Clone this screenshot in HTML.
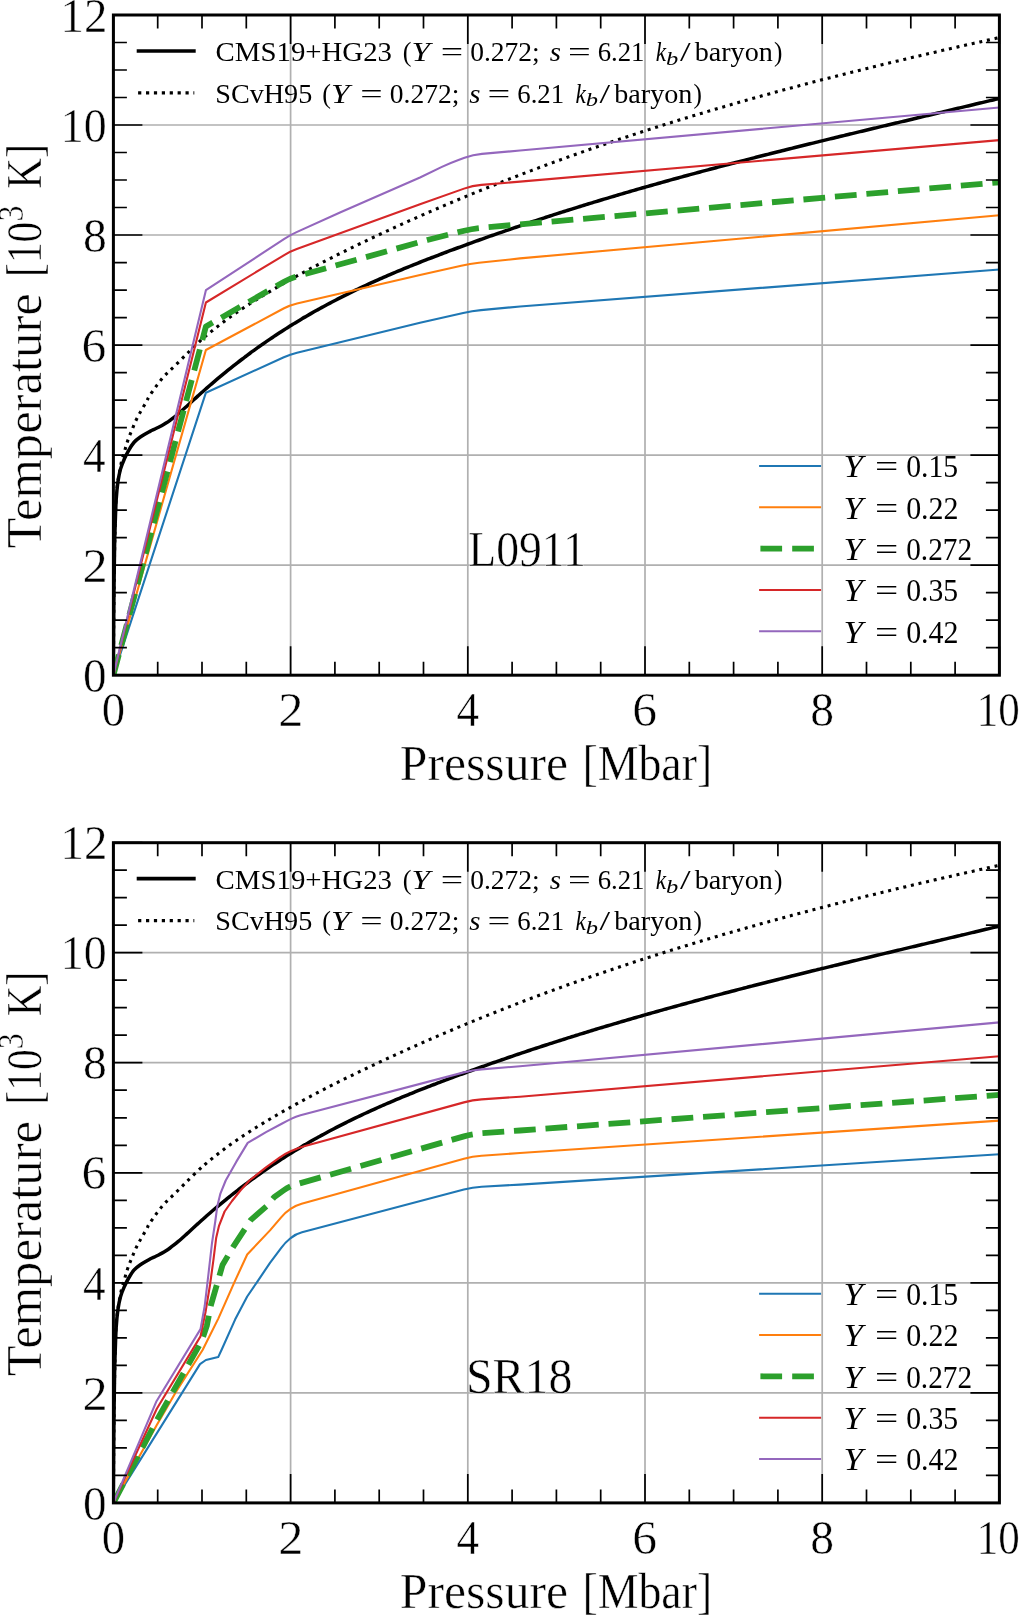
<!DOCTYPE html>
<html><head><meta charset="utf-8"><style>
html,body{margin:0;padding:0;background:#fff;overflow:hidden;}
svg{display:block;will-change:transform;}
</style></head><body>
<svg width="1020" height="1620" viewBox="0 0 1020 1620">
<rect width="1020" height="1620" fill="#fff"/>
<clipPath id="clip0"><rect x="113.4" y="15.0" width="886.0" height="660.2"/></clipPath>
<path d="M290.6,15.0 V675.2 M467.8,15.0 V675.2 M645.0,15.0 V675.2 M822.2,15.0 V675.2 M113.4,565.2 H999.4 M113.4,455.1 H999.4 M113.4,345.1 H999.4 M113.4,235.0 H999.4 M113.4,125.0 H999.4" stroke="#b0b0b0" stroke-width="1.7" fill="none"/>
<g clip-path="url(#clip0)" fill="none" stroke-linejoin="round">
<path d="M113.40,675.20 C113.43,669.33 113.50,654.20 113.60,640.00 C113.70,625.80 113.83,605.83 114.00,590.00 C114.17,574.17 114.38,556.50 114.60,545.00 C114.82,533.50 115.03,528.60 115.30,521.00 C115.57,513.40 115.77,505.88 116.20,499.40 C116.63,492.92 117.18,487.15 117.90,482.10 C118.62,477.05 119.42,472.98 120.50,469.10 C121.58,465.22 123.03,461.93 124.40,458.80 C125.77,455.67 127.12,453.02 128.70,450.30 C130.28,447.58 132.02,444.67 133.90,442.50 C135.78,440.33 137.32,439.15 140.00,437.30 C142.68,435.45 147.67,432.69 150.00,431.38 C152.33,430.07 152.67,430.08 154.00,429.44 C155.33,428.80 156.67,428.19 158.00,427.52 C159.33,426.85 160.67,426.19 162.00,425.44 C163.33,424.70 164.67,423.90 166.00,423.04 C167.33,422.18 168.67,421.26 170.00,420.29 C171.33,419.33 172.67,418.31 174.00,417.26 C175.33,416.20 176.67,415.10 178.00,413.98 C179.33,412.86 180.67,411.69 182.00,410.52 C183.33,409.34 184.67,408.14 186.00,406.93 C187.33,405.72 188.67,404.49 190.00,403.26 C191.33,402.04 192.67,400.80 194.00,399.57 C195.33,398.35 196.67,397.12 198.00,395.91 C199.33,394.70 200.67,393.50 202.00,392.31 C203.33,391.12 204.67,389.94 206.00,388.76 C207.33,387.59 208.67,386.43 210.00,385.27 C211.33,384.12 212.67,382.97 214.00,381.83 C215.33,380.70 216.67,379.57 218.00,378.45 C219.33,377.33 220.67,376.22 222.00,375.12 C223.33,374.02 224.67,372.93 226.00,371.84 C227.33,370.76 228.67,369.68 230.00,368.62 C231.33,367.55 232.67,366.49 234.00,365.44 C235.33,364.39 236.67,363.35 238.00,362.32 C239.33,361.29 240.67,360.27 242.00,359.25 C243.33,358.23 244.67,357.23 246.00,356.23 C247.33,355.23 248.67,354.24 250.00,353.26 C251.33,352.27 252.67,351.30 254.00,350.33 C255.33,349.36 256.67,348.41 258.00,347.45 C259.33,346.50 260.67,345.56 262.00,344.63 C263.33,343.69 264.67,342.76 266.00,341.84 C267.33,340.92 268.67,340.01 270.00,339.11 C271.33,338.20 272.67,337.31 274.00,336.42 C275.33,335.53 276.67,334.65 278.00,333.77 C279.33,332.90 280.67,332.03 282.00,331.17 C283.33,330.31 284.67,329.46 286.00,328.61 C287.33,327.77 288.67,326.93 290.00,326.10 C291.33,325.26 292.67,324.44 294.00,323.62 C295.33,322.80 296.67,321.99 298.00,321.19 C299.33,320.38 300.67,319.59 302.00,318.80 C303.33,318.00 304.67,317.22 306.00,316.44 C307.33,315.66 308.67,314.89 310.00,314.13 C311.33,313.36 312.67,312.60 314.00,311.85 C315.33,311.09 316.67,310.35 318.00,309.61 C319.33,308.87 320.67,308.13 322.00,307.40 C323.33,306.67 324.67,305.95 326.00,305.23 C327.33,304.51 328.67,303.80 330.00,303.09 C331.33,302.39 332.67,301.69 334.00,300.99 C335.33,300.30 336.67,299.61 338.00,298.92 C339.33,298.24 340.67,297.56 342.00,296.88 C343.33,296.21 344.67,295.54 346.00,294.87 C347.33,294.21 348.67,293.55 350.00,292.90 C351.33,292.24 352.67,291.59 354.00,290.95 C355.33,290.30 356.67,289.66 358.00,289.03 C359.33,288.39 360.67,287.76 362.00,287.13 C363.33,286.51 364.67,285.88 366.00,285.27 C367.33,284.65 368.67,284.04 370.00,283.43 C371.33,282.82 372.67,282.21 374.00,281.61 C375.33,281.01 376.67,280.41 378.00,279.82 C379.33,279.23 380.67,278.64 382.00,278.05 C383.33,277.46 384.67,276.88 386.00,276.30 C387.33,275.73 388.67,275.15 390.00,274.58 C391.33,274.01 392.67,273.44 394.00,272.88 C395.33,272.31 396.67,271.75 398.00,271.19 C399.33,270.63 400.67,270.08 402.00,269.53 C403.33,268.98 404.67,268.43 406.00,267.88 C407.33,267.34 408.67,266.79 410.00,266.25 C411.33,265.71 412.67,265.17 414.00,264.64 C415.33,264.10 416.67,263.57 418.00,263.04 C419.33,262.51 420.67,261.99 422.00,261.46 C423.33,260.94 424.67,260.41 426.00,259.89 C427.33,259.37 428.67,258.85 430.00,258.34 C431.33,257.82 432.67,257.31 434.00,256.80 C435.33,256.28 436.67,255.77 438.00,255.27 C439.33,254.76 440.67,254.25 442.00,253.75 C443.33,253.24 444.67,252.74 446.00,252.24 C447.33,251.73 448.67,251.23 450.00,250.73 C451.33,250.24 452.67,249.74 454.00,249.24 C455.33,248.75 456.67,248.25 458.00,247.76 C459.33,247.27 460.67,246.78 462.00,246.29 C463.33,245.80 464.67,245.31 466.00,244.82 C467.33,244.33 468.67,243.85 470.00,243.37 C471.33,242.88 472.67,242.40 474.00,241.92 C475.33,241.44 476.67,240.96 478.00,240.48 C479.33,240.00 480.67,239.53 482.00,239.05 C483.33,238.58 484.67,238.10 486.00,237.63 C487.33,237.16 488.67,236.69 490.00,236.22 C491.33,235.75 492.67,235.28 494.00,234.81 C495.33,234.35 496.67,233.88 498.00,233.42 C499.33,232.95 500.67,232.49 502.00,232.03 C503.33,231.57 504.67,231.11 506.00,230.65 C507.33,230.19 508.67,229.73 510.00,229.28 C511.33,228.82 512.67,228.37 514.00,227.91 C515.33,227.46 516.67,227.01 518.00,226.56 C519.33,226.11 520.67,225.66 522.00,225.21 C523.33,224.76 524.67,224.31 526.00,223.87 C527.33,223.42 528.67,222.98 530.00,222.54 C531.33,222.09 532.67,221.65 534.00,221.21 C535.33,220.77 536.67,220.33 538.00,219.89 C539.33,219.46 540.67,219.02 542.00,218.58 C543.33,218.15 544.67,217.72 546.00,217.28 C547.33,216.85 548.67,216.42 550.00,215.99 C551.33,215.56 552.67,215.13 554.00,214.70 C555.33,214.27 556.67,213.84 558.00,213.42 C559.33,212.99 560.67,212.57 562.00,212.14 C563.33,211.72 564.67,211.30 566.00,210.88 C567.33,210.46 568.67,210.04 570.00,209.62 C571.33,209.20 572.67,208.78 574.00,208.37 C575.33,207.95 576.67,207.53 578.00,207.12 C579.33,206.71 580.67,206.29 582.00,205.88 C583.33,205.47 584.67,205.06 586.00,204.65 C587.33,204.24 588.67,203.83 590.00,203.42 C591.33,203.01 592.67,202.61 594.00,202.20 C595.33,201.80 596.67,201.39 598.00,200.99 C599.33,200.58 600.67,200.18 602.00,199.78 C603.33,199.38 604.67,198.98 606.00,198.58 C607.33,198.18 608.67,197.78 610.00,197.39 C611.33,196.99 612.67,196.59 614.00,196.20 C615.33,195.80 616.67,195.41 618.00,195.01 C619.33,194.62 620.67,194.23 622.00,193.84 C623.33,193.45 624.67,193.06 626.00,192.67 C627.33,192.28 628.67,191.89 630.00,191.50 C631.33,191.11 632.67,190.73 634.00,190.34 C635.33,189.96 636.67,189.57 638.00,189.19 C639.33,188.81 640.67,188.42 642.00,188.04 C643.33,187.66 644.67,187.28 646.00,186.90 C647.33,186.52 648.67,186.14 650.00,185.76 C651.33,185.38 652.67,185.01 654.00,184.63 C655.33,184.25 656.67,183.88 658.00,183.50 C659.33,183.13 660.67,182.75 662.00,182.38 C663.33,182.01 664.67,181.64 666.00,181.26 C667.33,180.89 668.67,180.52 670.00,180.15 C671.33,179.78 672.67,179.41 674.00,179.05 C675.33,178.68 676.67,178.31 678.00,177.94 C679.33,177.58 680.67,177.21 682.00,176.85 C683.33,176.48 684.67,176.12 686.00,175.75 C687.33,175.39 688.67,175.03 690.00,174.67 C691.33,174.31 692.67,173.94 694.00,173.58 C695.33,173.22 696.67,172.86 698.00,172.51 C699.33,172.15 700.67,171.79 702.00,171.43 C703.33,171.07 704.67,170.72 706.00,170.36 C707.33,170.01 708.67,169.65 710.00,169.30 C711.33,168.94 712.67,168.59 714.00,168.23 C715.33,167.88 716.67,167.53 718.00,167.18 C719.33,166.83 720.67,166.47 722.00,166.12 C723.33,165.77 724.67,165.42 726.00,165.07 C727.33,164.73 728.67,164.38 730.00,164.03 C731.33,163.68 732.67,163.33 734.00,162.99 C735.33,162.64 736.67,162.29 738.00,161.95 C739.33,161.60 740.67,161.26 742.00,160.91 C743.33,160.57 744.67,160.23 746.00,159.88 C747.33,159.54 748.67,159.20 750.00,158.86 C751.33,158.51 752.67,158.17 754.00,157.83 C755.33,157.49 756.67,157.15 758.00,156.81 C759.33,156.47 760.67,156.13 762.00,155.79 C763.33,155.45 764.67,155.12 766.00,154.78 C767.33,154.44 768.67,154.10 770.00,153.77 C771.33,153.43 772.67,153.10 774.00,152.76 C775.33,152.42 776.67,152.09 778.00,151.75 C779.33,151.42 780.67,151.09 782.00,150.75 C783.33,150.42 784.67,150.09 786.00,149.75 C787.33,149.42 788.67,149.09 790.00,148.76 C791.33,148.42 792.67,148.09 794.00,147.76 C795.33,147.43 796.67,147.10 798.00,146.77 C799.33,146.44 800.67,146.11 802.00,145.78 C803.33,145.45 804.67,145.12 806.00,144.79 C807.33,144.46 808.67,144.14 810.00,143.81 C811.33,143.48 812.67,143.15 814.00,142.83 C815.33,142.50 816.67,142.17 818.00,141.85 C819.33,141.52 820.67,141.19 822.00,140.87 C823.33,140.54 824.67,140.22 826.00,139.89 C827.33,139.57 828.67,139.24 830.00,138.92 C831.33,138.59 832.67,138.27 834.00,137.95 C835.33,137.62 836.67,137.30 838.00,136.98 C839.33,136.65 840.67,136.33 842.00,136.01 C843.33,135.68 844.67,135.36 846.00,135.04 C847.33,134.72 848.67,134.40 850.00,134.07 C851.33,133.75 852.67,133.43 854.00,133.11 C855.33,132.79 856.67,132.47 858.00,132.15 C859.33,131.83 860.67,131.51 862.00,131.19 C863.33,130.87 864.67,130.55 866.00,130.23 C867.33,129.91 868.67,129.59 870.00,129.27 C871.33,128.95 872.67,128.63 874.00,128.31 C875.33,127.99 876.67,127.67 878.00,127.35 C879.33,127.03 880.67,126.71 882.00,126.40 C883.33,126.08 884.67,125.76 886.00,125.44 C887.33,125.12 888.67,124.80 890.00,124.49 C891.33,124.17 892.67,123.85 894.00,123.53 C895.33,123.21 896.67,122.90 898.00,122.58 C899.33,122.26 900.67,121.94 902.00,121.63 C903.33,121.31 904.67,120.99 906.00,120.68 C907.33,120.36 908.67,120.04 910.00,119.72 C911.33,119.41 912.67,119.09 914.00,118.77 C915.33,118.46 916.67,118.14 918.00,117.82 C919.33,117.51 920.67,117.19 922.00,116.87 C923.33,116.55 924.67,116.24 926.00,115.92 C927.33,115.60 928.67,115.29 930.00,114.97 C931.33,114.65 932.67,114.34 934.00,114.02 C935.33,113.70 936.67,113.39 938.00,113.07 C939.33,112.75 940.67,112.43 942.00,112.12 C943.33,111.80 944.67,111.48 946.00,111.17 C947.33,110.85 948.67,110.53 950.00,110.21 C951.33,109.90 952.67,109.58 954.00,109.26 C955.33,108.94 956.67,108.63 958.00,108.31 C959.33,107.99 960.67,107.67 962.00,107.36 C963.33,107.04 964.67,106.72 966.00,106.40 C967.33,106.08 968.67,105.77 970.00,105.45 C971.33,105.13 972.67,104.81 974.00,104.49 C975.33,104.17 976.67,103.85 978.00,103.54 C979.33,103.22 980.67,102.90 982.00,102.58 C983.33,102.26 984.67,101.94 986.00,101.62 C987.33,101.30 988.67,100.98 990.00,100.66 C991.33,100.34 992.67,100.02 994.00,99.70 C995.33,99.38 997.10,98.95 998.00,98.74 C998.90,98.52 999.17,98.46 999.40,98.40" stroke="#000" stroke-width="3.5"/>
<path d="M113.40,675.20 C113.43,669.33 113.50,654.20 113.60,640.00 C113.70,625.80 113.80,606.67 114.00,590.00 C114.20,573.33 114.50,554.38 114.80,540.00 C115.10,525.62 115.42,512.53 115.80,503.70 C116.18,494.87 116.53,492.03 117.10,487.00 C117.67,481.97 118.42,477.92 119.20,473.50 C119.98,469.08 120.93,464.10 121.80,460.50 C122.67,456.90 123.60,454.63 124.40,451.90 C125.20,449.17 125.80,446.63 126.60,444.10 C127.40,441.57 128.27,439.15 129.20,436.70 C130.13,434.25 131.20,431.85 132.20,429.40 C133.20,426.95 134.12,424.38 135.20,422.00 C136.28,419.62 137.47,417.40 138.70,415.10 C139.93,412.80 141.23,410.57 142.60,408.20 C143.97,405.83 145.67,403.08 146.90,400.90 C148.13,398.72 147.37,398.93 150.00,395.10 C152.63,391.27 158.45,382.88 162.70,377.90 C166.95,372.92 171.25,369.43 175.50,365.20 C179.75,360.97 184.12,356.52 188.20,352.50 C192.28,348.48 197.37,343.55 200.00,341.07 C202.63,338.58 202.67,338.73 204.00,337.58 C205.33,336.44 206.67,335.31 208.00,334.20 C209.33,333.09 210.67,332.00 212.00,330.92 C213.33,329.84 214.67,328.77 216.00,327.72 C217.33,326.67 218.67,325.64 220.00,324.62 C221.33,323.59 222.67,322.59 224.00,321.59 C225.33,320.60 226.67,319.62 228.00,318.65 C229.33,317.68 230.67,316.72 232.00,315.78 C233.33,314.83 234.67,313.90 236.00,312.97 C237.33,312.05 238.67,311.14 240.00,310.24 C241.33,309.34 242.67,308.45 244.00,307.56 C245.33,306.68 246.67,305.81 248.00,304.95 C249.33,304.08 250.67,303.23 252.00,302.38 C253.33,301.53 254.67,300.69 256.00,299.86 C257.33,299.03 258.67,298.20 260.00,297.39 C261.33,296.57 262.67,295.76 264.00,294.95 C265.33,294.14 266.67,293.34 268.00,292.55 C269.33,291.75 270.67,290.96 272.00,290.18 C273.33,289.39 274.67,288.61 276.00,287.83 C277.33,287.06 278.67,286.28 280.00,285.52 C281.33,284.75 282.67,283.99 284.00,283.23 C285.33,282.47 286.67,281.71 288.00,280.96 C289.33,280.21 290.67,279.46 292.00,278.72 C293.33,277.98 294.67,277.24 296.00,276.50 C297.33,275.77 298.67,275.04 300.00,274.31 C301.33,273.58 302.67,272.86 304.00,272.14 C305.33,271.42 306.67,270.71 308.00,269.99 C309.33,269.28 310.67,268.57 312.00,267.87 C313.33,267.16 314.67,266.46 316.00,265.76 C317.33,265.06 318.67,264.36 320.00,263.67 C321.33,262.98 322.67,262.29 324.00,261.60 C325.33,260.92 326.67,260.23 328.00,259.55 C329.33,258.87 330.67,258.20 332.00,257.52 C333.33,256.85 334.67,256.18 336.00,255.51 C337.33,254.84 338.67,254.17 340.00,253.51 C341.33,252.84 342.67,252.18 344.00,251.53 C345.33,250.87 346.67,250.21 348.00,249.56 C349.33,248.90 350.67,248.25 352.00,247.60 C353.33,246.95 354.67,246.31 356.00,245.66 C357.33,245.02 358.67,244.37 360.00,243.73 C361.33,243.09 362.67,242.45 364.00,241.82 C365.33,241.18 366.67,240.54 368.00,239.91 C369.33,239.28 370.67,238.64 372.00,238.01 C373.33,237.38 374.67,236.76 376.00,236.13 C377.33,235.50 378.67,234.88 380.00,234.26 C381.33,233.63 382.67,233.01 384.00,232.39 C385.33,231.77 386.67,231.16 388.00,230.54 C389.33,229.92 390.67,229.31 392.00,228.70 C393.33,228.09 394.67,227.47 396.00,226.87 C397.33,226.26 398.67,225.65 400.00,225.04 C401.33,224.44 402.67,223.83 404.00,223.23 C405.33,222.63 406.67,222.03 408.00,221.43 C409.33,220.83 410.67,220.23 412.00,219.64 C413.33,219.04 414.67,218.45 416.00,217.86 C417.33,217.26 418.67,216.67 420.00,216.09 C421.33,215.50 422.67,214.91 424.00,214.32 C425.33,213.74 426.67,213.15 428.00,212.57 C429.33,211.99 430.67,211.41 432.00,210.83 C433.33,210.25 434.67,209.67 436.00,209.10 C437.33,208.52 438.67,207.95 440.00,207.38 C441.33,206.80 442.67,206.23 444.00,205.66 C445.33,205.09 446.67,204.53 448.00,203.96 C449.33,203.39 450.67,202.83 452.00,202.27 C453.33,201.70 454.67,201.14 456.00,200.58 C457.33,200.02 458.67,199.47 460.00,198.91 C461.33,198.35 462.67,197.80 464.00,197.24 C465.33,196.69 466.67,196.14 468.00,195.59 C469.33,195.04 470.67,194.49 472.00,193.94 C473.33,193.39 474.67,192.85 476.00,192.30 C477.33,191.76 478.67,191.22 480.00,190.68 C481.33,190.14 482.67,189.60 484.00,189.06 C485.33,188.52 486.67,187.98 488.00,187.45 C489.33,186.91 490.67,186.38 492.00,185.85 C493.33,185.31 494.67,184.78 496.00,184.26 C497.33,183.73 498.67,183.20 500.00,182.67 C501.33,182.15 502.67,181.62 504.00,181.10 C505.33,180.58 506.67,180.05 508.00,179.53 C509.33,179.01 510.67,178.49 512.00,177.98 C513.33,177.46 514.67,176.94 516.00,176.43 C517.33,175.92 518.67,175.40 520.00,174.89 C521.33,174.38 522.67,173.87 524.00,173.36 C525.33,172.85 526.67,172.34 528.00,171.84 C529.33,171.33 530.67,170.83 532.00,170.33 C533.33,169.82 534.67,169.32 536.00,168.82 C537.33,168.32 538.67,167.82 540.00,167.32 C541.33,166.83 542.67,166.33 544.00,165.84 C545.33,165.34 546.67,164.85 548.00,164.36 C549.33,163.86 550.67,163.37 552.00,162.88 C553.33,162.40 554.67,161.91 556.00,161.42 C557.33,160.94 558.67,160.45 560.00,159.97 C561.33,159.48 562.67,159.00 564.00,158.52 C565.33,158.04 566.67,157.56 568.00,157.08 C569.33,156.60 570.67,156.12 572.00,155.65 C573.33,155.17 574.67,154.70 576.00,154.23 C577.33,153.75 578.67,153.28 580.00,152.81 C581.33,152.34 582.67,151.87 584.00,151.40 C585.33,150.94 586.67,150.47 588.00,150.00 C589.33,149.54 590.67,149.07 592.00,148.61 C593.33,148.15 594.67,147.69 596.00,147.23 C597.33,146.77 598.67,146.31 600.00,145.85 C601.33,145.39 602.67,144.94 604.00,144.48 C605.33,144.03 606.67,143.57 608.00,143.12 C609.33,142.67 610.67,142.22 612.00,141.77 C613.33,141.32 614.67,140.87 616.00,140.42 C617.33,139.97 618.67,139.52 620.00,139.08 C621.33,138.63 622.67,138.19 624.00,137.75 C625.33,137.30 626.67,136.86 628.00,136.42 C629.33,135.98 630.67,135.54 632.00,135.10 C633.33,134.67 634.67,134.23 636.00,133.79 C637.33,133.36 638.67,132.92 640.00,132.49 C641.33,132.06 642.67,131.62 644.00,131.19 C645.33,130.76 646.67,130.33 648.00,129.90 C649.33,129.47 650.67,129.05 652.00,128.62 C653.33,128.19 654.67,127.77 656.00,127.34 C657.33,126.92 658.67,126.50 660.00,126.08 C661.33,125.65 662.67,125.23 664.00,124.81 C665.33,124.39 666.67,123.98 668.00,123.56 C669.33,123.14 670.67,122.72 672.00,122.31 C673.33,121.89 674.67,121.48 676.00,121.07 C677.33,120.65 678.67,120.24 680.00,119.83 C681.33,119.42 682.67,119.01 684.00,118.60 C685.33,118.19 686.67,117.79 688.00,117.38 C689.33,116.97 690.67,116.57 692.00,116.16 C693.33,115.76 694.67,115.35 696.00,114.95 C697.33,114.55 698.67,114.15 700.00,113.75 C701.33,113.35 702.67,112.95 704.00,112.55 C705.33,112.15 706.67,111.76 708.00,111.36 C709.33,110.96 710.67,110.57 712.00,110.17 C713.33,109.78 714.67,109.39 716.00,108.99 C717.33,108.60 718.67,108.21 720.00,107.82 C721.33,107.43 722.67,107.04 724.00,106.65 C725.33,106.27 726.67,105.88 728.00,105.49 C729.33,105.11 730.67,104.72 732.00,104.34 C733.33,103.95 734.67,103.57 736.00,103.19 C737.33,102.80 738.67,102.42 740.00,102.04 C741.33,101.66 742.67,101.28 744.00,100.90 C745.33,100.53 746.67,100.15 748.00,99.77 C749.33,99.40 750.67,99.02 752.00,98.64 C753.33,98.27 754.67,97.90 756.00,97.52 C757.33,97.15 758.67,96.78 760.00,96.41 C761.33,96.04 762.67,95.67 764.00,95.30 C765.33,94.93 766.67,94.56 768.00,94.19 C769.33,93.82 770.67,93.46 772.00,93.09 C773.33,92.73 774.67,92.36 776.00,92.00 C777.33,91.63 778.67,91.27 780.00,90.91 C781.33,90.54 782.67,90.18 784.00,89.82 C785.33,89.46 786.67,89.10 788.00,88.74 C789.33,88.38 790.67,88.03 792.00,87.67 C793.33,87.31 794.67,86.96 796.00,86.60 C797.33,86.24 798.67,85.89 800.00,85.54 C801.33,85.18 802.67,84.83 804.00,84.48 C805.33,84.12 806.67,83.77 808.00,83.42 C809.33,83.07 810.67,82.72 812.00,82.37 C813.33,82.02 814.67,81.68 816.00,81.33 C817.33,80.98 818.67,80.63 820.00,80.29 C821.33,79.94 822.67,79.60 824.00,79.25 C825.33,78.91 826.67,78.56 828.00,78.22 C829.33,77.88 830.67,77.54 832.00,77.19 C833.33,76.85 834.67,76.51 836.00,76.17 C837.33,75.83 838.67,75.49 840.00,75.16 C841.33,74.82 842.67,74.48 844.00,74.14 C845.33,73.81 846.67,73.47 848.00,73.13 C849.33,72.80 850.67,72.46 852.00,72.13 C853.33,71.79 854.67,71.46 856.00,71.13 C857.33,70.80 858.67,70.46 860.00,70.13 C861.33,69.80 862.67,69.47 864.00,69.14 C865.33,68.81 866.67,68.48 868.00,68.15 C869.33,67.82 870.67,67.49 872.00,67.17 C873.33,66.84 874.67,66.51 876.00,66.19 C877.33,65.86 878.67,65.54 880.00,65.21 C881.33,64.89 882.67,64.56 884.00,64.24 C885.33,63.92 886.67,63.59 888.00,63.27 C889.33,62.95 890.67,62.63 892.00,62.31 C893.33,61.98 894.67,61.66 896.00,61.34 C897.33,61.02 898.67,60.70 900.00,60.39 C901.33,60.07 902.67,59.75 904.00,59.43 C905.33,59.11 906.67,58.80 908.00,58.48 C909.33,58.17 910.67,57.85 912.00,57.53 C913.33,57.22 914.67,56.90 916.00,56.59 C917.33,56.28 918.67,55.96 920.00,55.65 C921.33,55.34 922.67,55.03 924.00,54.71 C925.33,54.40 926.67,54.09 928.00,53.78 C929.33,53.47 930.67,53.16 932.00,52.85 C933.33,52.54 934.67,52.23 936.00,51.92 C937.33,51.61 938.67,51.31 940.00,51.00 C941.33,50.69 942.67,50.38 944.00,50.08 C945.33,49.77 946.67,49.46 948.00,49.16 C949.33,48.85 950.67,48.55 952.00,48.24 C953.33,47.94 954.67,47.63 956.00,47.33 C957.33,47.03 958.67,46.72 960.00,46.42 C961.33,46.12 962.67,45.82 964.00,45.51 C965.33,45.21 966.67,44.91 968.00,44.61 C969.33,44.31 970.67,44.01 972.00,43.71 C973.33,43.41 974.67,43.11 976.00,42.81 C977.33,42.51 978.67,42.21 980.00,41.91 C981.33,41.61 982.67,41.32 984.00,41.02 C985.33,40.72 986.67,40.42 988.00,40.13 C989.33,39.83 990.67,39.54 992.00,39.24 C993.33,38.94 994.77,38.63 996.00,38.35 C997.23,38.08 998.83,37.73 999.40,37.60" stroke="#000" stroke-width="3.1" stroke-dasharray="3 4.8"/>
<path d="M113.40,675.20 L205.90,392.70 L283.83,357.20 Q290.20,354.30 297.00,352.65 L420.00,322.80 L463.23,312.91 Q472.00,310.90 480.96,310.08 L520.00,306.50 L999.40,269.50" stroke="#1f77b4" stroke-width="2.1"/>
<path d="M113.40,675.20 L205.90,350.00 L284.02,308.30 Q290.20,305.00 297.02,303.42 L420.00,275.00 L461.22,265.77 Q470.00,263.80 478.95,262.83 L520.00,258.40 L999.40,215.30" stroke="#ff7f0e" stroke-width="2.1"/>
<path d="M113.40,675.20 L205.90,326.50 L284.13,281.68 Q290.20,278.20 296.94,276.32 L427.40,240.00 L464.27,230.70 Q473.00,228.50 481.97,227.71 L999.40,182.30" stroke="#2ca02c" stroke-width="5.8" stroke-dasharray="21.8 9.8" stroke-dashoffset="0.7"/>
<path d="M113.40,675.20 L205.90,302.50 L284.21,255.03 Q290.20,251.40 296.78,249.01 L420.00,204.30 L464.02,188.62 Q472.50,185.60 481.47,184.84 L520.00,181.60 L999.40,140.10" stroke="#d62728" stroke-width="2.1"/>
<path d="M113.40,675.20 L205.90,290.20 L284.34,238.83 Q290.20,235.00 296.58,232.12 L340.00,212.50 L420.00,177.50 L441.90,166.92 Q450.00,163.00 458.47,159.95 L464.53,157.75 Q473.00,154.70 481.96,153.90 L520.00,150.50 L999.40,107.50" stroke="#9467bd" stroke-width="2.1"/>
</g>
<path d="M113.4,675.2 v-29.0 M113.4,15.0 v29.0 M157.7,675.2 v-13.5 M157.7,15.0 v13.5 M202.0,675.2 v-13.5 M202.0,15.0 v13.5 M246.3,675.2 v-13.5 M246.3,15.0 v13.5 M290.6,675.2 v-29.0 M290.6,15.0 v29.0 M334.9,675.2 v-13.5 M334.9,15.0 v13.5 M379.2,675.2 v-13.5 M379.2,15.0 v13.5 M423.5,675.2 v-13.5 M423.5,15.0 v13.5 M467.8,675.2 v-29.0 M467.8,15.0 v29.0 M512.1,675.2 v-13.5 M512.1,15.0 v13.5 M556.4,675.2 v-13.5 M556.4,15.0 v13.5 M600.7,675.2 v-13.5 M600.7,15.0 v13.5 M645.0,675.2 v-29.0 M645.0,15.0 v29.0 M689.3,675.2 v-13.5 M689.3,15.0 v13.5 M733.6,675.2 v-13.5 M733.6,15.0 v13.5 M777.9,675.2 v-13.5 M777.9,15.0 v13.5 M822.2,675.2 v-29.0 M822.2,15.0 v29.0 M866.5,675.2 v-13.5 M866.5,15.0 v13.5 M910.8,675.2 v-13.5 M910.8,15.0 v13.5 M955.1,675.2 v-13.5 M955.1,15.0 v13.5 M999.4,675.2 v-29.0 M999.4,15.0 v29.0 M113.4,675.2 h29.0 M999.4,675.2 h-29.0 M113.4,647.7 h13.5 M999.4,647.7 h-13.5 M113.4,620.2 h13.5 M999.4,620.2 h-13.5 M113.4,592.7 h13.5 M999.4,592.7 h-13.5 M113.4,565.2 h29.0 M999.4,565.2 h-29.0 M113.4,537.7 h13.5 M999.4,537.7 h-13.5 M113.4,510.1 h13.5 M999.4,510.1 h-13.5 M113.4,482.6 h13.5 M999.4,482.6 h-13.5 M113.4,455.1 h29.0 M999.4,455.1 h-29.0 M113.4,427.6 h13.5 M999.4,427.6 h-13.5 M113.4,400.1 h13.5 M999.4,400.1 h-13.5 M113.4,372.6 h13.5 M999.4,372.6 h-13.5 M113.4,345.1 h29.0 M999.4,345.1 h-29.0 M113.4,317.6 h13.5 M999.4,317.6 h-13.5 M113.4,290.1 h13.5 M999.4,290.1 h-13.5 M113.4,262.6 h13.5 M999.4,262.6 h-13.5 M113.4,235.0 h29.0 M999.4,235.0 h-29.0 M113.4,207.5 h13.5 M999.4,207.5 h-13.5 M113.4,180.0 h13.5 M999.4,180.0 h-13.5 M113.4,152.5 h13.5 M999.4,152.5 h-13.5 M113.4,125.0 h29.0 M999.4,125.0 h-29.0 M113.4,97.5 h13.5 M999.4,97.5 h-13.5 M113.4,70.0 h13.5 M999.4,70.0 h-13.5 M113.4,42.5 h13.5 M999.4,42.5 h-13.5 M113.4,15.0 h29.0 M999.4,15.0 h-29.0" stroke="#000" stroke-width="1.7" fill="none"/>
<rect x="113.4" y="15.0" width="886.0" height="660.2" fill="none" stroke="#000" stroke-width="3"/>
<path d="M759.1,466.0 H821.1" stroke="#1f77b4" stroke-width="2.1"/>
<path d="M759.1,507.3 H821.1" stroke="#ff7f0e" stroke-width="2.1"/>
<path d="M760.4,548.6 H822" stroke="#2ca02c" stroke-width="5.8" stroke-dasharray="21.7 10.1"/>
<path d="M759.1,590.0 H821.1" stroke="#d62728" stroke-width="2.1"/>
<path d="M759.1,631.3 H821.1" stroke="#9467bd" stroke-width="2.1"/>
<g font-family="Liberation Serif" fill="#000" stroke="#fff" stroke-width="0.5"><text x="101.72" y="725.90" font-size="49.0" textLength="23.36" lengthAdjust="spacingAndGlyphs">0</text>
<text x="278.29" y="725.90" font-size="49.0" textLength="25.19" lengthAdjust="spacingAndGlyphs">2</text>
<text x="456.42" y="725.90" font-size="49.0" textLength="22.59" lengthAdjust="spacingAndGlyphs">4</text>
<text x="632.27" y="725.90" font-size="49.0" textLength="24.81" lengthAdjust="spacingAndGlyphs">6</text>
<text x="810.28" y="725.90" font-size="49.0" textLength="23.83" lengthAdjust="spacingAndGlyphs">8</text>
<text x="976.82" y="725.90" font-size="49.0" textLength="43.02" lengthAdjust="spacingAndGlyphs">10</text>
<text x="83.10" y="691.90" font-size="49.0" textLength="23.59" lengthAdjust="spacingAndGlyphs">0</text>
<text x="82.49" y="581.86" font-size="49.0" textLength="25.19" lengthAdjust="spacingAndGlyphs">2</text>
<text x="83.02" y="471.82" font-size="49.0" textLength="22.59" lengthAdjust="spacingAndGlyphs">4</text>
<text x="81.57" y="361.78" font-size="49.0" textLength="24.81" lengthAdjust="spacingAndGlyphs">6</text>
<text x="82.88" y="251.74" font-size="49.0" textLength="23.83" lengthAdjust="spacingAndGlyphs">8</text>
<text x="60.77" y="141.70" font-size="49.0" textLength="45.88" lengthAdjust="spacingAndGlyphs">10</text>
<text x="60.58" y="31.66" font-size="49.0" textLength="46.91" lengthAdjust="spacingAndGlyphs">12</text>
<text x="399.87" y="779.80" font-size="51.0" textLength="168.25" lengthAdjust="spacingAndGlyphs">Pressure</text>
<text x="582.40" y="779.80" font-size="51.0" textLength="129.80" lengthAdjust="spacingAndGlyphs">[Mbar]</text>
<g transform="translate(40.7,547.6) rotate(-90)"><text x="-0.90" y="0.00" font-size="51.0" textLength="255.24" lengthAdjust="spacingAndGlyphs">Temperature</text><text x="270.73" y="0.00" font-size="51.0" textLength="55.15" lengthAdjust="spacingAndGlyphs">[10</text><text x="326.07" y="-17.40" font-size="35.0" textLength="15.98" lengthAdjust="spacingAndGlyphs">3</text><text x="358.98" y="0.00" font-size="51.0" textLength="44.77" lengthAdjust="spacingAndGlyphs">K]</text></g>
<text x="468.30" y="565.76" font-size="51.5" textLength="117.50" lengthAdjust="spacingAndGlyphs">L0911</text></g>
<g font-family="Liberation Serif" fill="#000"><text x="215.62" y="61.20" font-size="28.0" textLength="176.41" lengthAdjust="spacingAndGlyphs">CMS19+HG23</text>
<text x="402.75" y="61.20" font-size="28.0" textLength="8.69" lengthAdjust="spacingAndGlyphs">(</text><text x="411.40" y="61.20" font-size="28.0" font-style="italic" textLength="18.54" lengthAdjust="spacingAndGlyphs">Y</text><text x="440.72" y="61.20" font-size="28.0" textLength="22.42" lengthAdjust="spacingAndGlyphs">=</text><text x="470.15" y="61.20" font-size="28.0" textLength="69.56" lengthAdjust="spacingAndGlyphs">0.272;</text><text x="549.65" y="61.20" font-size="28.0" font-style="italic" textLength="11.23" lengthAdjust="spacingAndGlyphs">s</text><text x="567.99" y="61.20" font-size="28.0" textLength="22.78" lengthAdjust="spacingAndGlyphs">=</text><text x="597.65" y="61.20" font-size="28.0" textLength="46.86" lengthAdjust="spacingAndGlyphs">6.21</text><text x="655.83" y="61.20" font-size="28.0" font-style="italic" textLength="10.33" lengthAdjust="spacingAndGlyphs">k</text><text x="680.00" y="61.20" font-size="28.0" textLength="10.60" lengthAdjust="spacingAndGlyphs">/</text><text x="694.70" y="61.20" font-size="28.0" textLength="78.13" lengthAdjust="spacingAndGlyphs">baryon</text><text x="773.88" y="61.20" font-size="28.0" textLength="8.43" lengthAdjust="spacingAndGlyphs">)</text><text x="666.09" y="65.00" font-size="19.0" font-style="italic" textLength="12.25" lengthAdjust="spacingAndGlyphs">b</text>
<text x="215.21" y="102.50" font-size="28.0" textLength="97.09" lengthAdjust="spacingAndGlyphs">SCvH95</text>
<text x="322.35" y="102.50" font-size="28.0" textLength="8.69" lengthAdjust="spacingAndGlyphs">(</text><text x="331.00" y="102.50" font-size="28.0" font-style="italic" textLength="18.54" lengthAdjust="spacingAndGlyphs">Y</text><text x="360.32" y="102.50" font-size="28.0" textLength="22.42" lengthAdjust="spacingAndGlyphs">=</text><text x="389.75" y="102.50" font-size="28.0" textLength="69.56" lengthAdjust="spacingAndGlyphs">0.272;</text><text x="469.25" y="102.50" font-size="28.0" font-style="italic" textLength="11.23" lengthAdjust="spacingAndGlyphs">s</text><text x="487.59" y="102.50" font-size="28.0" textLength="22.78" lengthAdjust="spacingAndGlyphs">=</text><text x="517.25" y="102.50" font-size="28.0" textLength="46.86" lengthAdjust="spacingAndGlyphs">6.21</text><text x="575.43" y="102.50" font-size="28.0" font-style="italic" textLength="10.33" lengthAdjust="spacingAndGlyphs">k</text><text x="599.60" y="102.50" font-size="28.0" textLength="10.60" lengthAdjust="spacingAndGlyphs">/</text><text x="614.30" y="102.50" font-size="28.0" textLength="78.13" lengthAdjust="spacingAndGlyphs">baryon</text><text x="693.48" y="102.50" font-size="28.0" textLength="8.43" lengthAdjust="spacingAndGlyphs">)</text><text x="585.69" y="106.30" font-size="19.0" font-style="italic" textLength="12.25" lengthAdjust="spacingAndGlyphs">b</text>
<text x="843.50" y="477.20" font-size="30.5" font-style="italic" textLength="19.49" lengthAdjust="spacingAndGlyphs">Y</text>
<text x="875.05" y="477.20" font-size="30.5" textLength="23.27" lengthAdjust="spacingAndGlyphs">=</text>
<text x="906.17" y="477.20" font-size="30.5" textLength="51.89" lengthAdjust="spacingAndGlyphs">0.15</text>
<text x="843.50" y="518.50" font-size="30.5" font-style="italic" textLength="19.49" lengthAdjust="spacingAndGlyphs">Y</text>
<text x="875.05" y="518.50" font-size="30.5" textLength="23.27" lengthAdjust="spacingAndGlyphs">=</text>
<text x="906.16" y="518.50" font-size="30.5" textLength="52.39" lengthAdjust="spacingAndGlyphs">0.22</text>
<text x="843.50" y="559.80" font-size="30.5" font-style="italic" textLength="19.49" lengthAdjust="spacingAndGlyphs">Y</text>
<text x="875.05" y="559.80" font-size="30.5" textLength="23.27" lengthAdjust="spacingAndGlyphs">=</text>
<text x="906.19" y="559.80" font-size="30.5" textLength="65.83" lengthAdjust="spacingAndGlyphs">0.272</text>
<text x="843.50" y="601.20" font-size="30.5" font-style="italic" textLength="19.49" lengthAdjust="spacingAndGlyphs">Y</text>
<text x="875.05" y="601.20" font-size="30.5" textLength="23.27" lengthAdjust="spacingAndGlyphs">=</text>
<text x="906.17" y="601.20" font-size="30.5" textLength="51.89" lengthAdjust="spacingAndGlyphs">0.35</text>
<text x="843.50" y="642.50" font-size="30.5" font-style="italic" textLength="19.49" lengthAdjust="spacingAndGlyphs">Y</text>
<text x="875.05" y="642.50" font-size="30.5" textLength="23.27" lengthAdjust="spacingAndGlyphs">=</text>
<text x="906.16" y="642.50" font-size="30.5" textLength="52.39" lengthAdjust="spacingAndGlyphs">0.42</text></g>
<path d="M136.7,50.95 H195.7" stroke="#000" stroke-width="3.6"/>
<path d="M138.1,92.90 H194.3" stroke="#000" stroke-width="3.2" stroke-dasharray="3.2 4.7"/>
<clipPath id="clip1"><rect x="113.4" y="842.7" width="886.0" height="660.2"/></clipPath>
<path d="M290.6,842.7 V1502.9 M467.8,842.7 V1502.9 M645.0,842.7 V1502.9 M822.2,842.7 V1502.9 M113.4,1392.9 H999.4 M113.4,1282.8 H999.4 M113.4,1172.8 H999.4 M113.4,1062.7 H999.4 M113.4,952.7 H999.4" stroke="#b0b0b0" stroke-width="1.7" fill="none"/>
<g clip-path="url(#clip1)" fill="none" stroke-linejoin="round">
<path d="M113.40,1502.90 C113.43,1497.03 113.50,1481.90 113.60,1467.70 C113.70,1453.50 113.83,1433.53 114.00,1417.70 C114.17,1401.87 114.38,1384.20 114.60,1372.70 C114.82,1361.20 115.03,1356.30 115.30,1348.70 C115.57,1341.10 115.77,1333.58 116.20,1327.10 C116.63,1320.62 117.18,1314.85 117.90,1309.80 C118.62,1304.75 119.42,1300.68 120.50,1296.80 C121.58,1292.92 123.03,1289.63 124.40,1286.50 C125.77,1283.37 127.12,1280.72 128.70,1278.00 C130.28,1275.28 132.02,1272.37 133.90,1270.20 C135.78,1268.03 137.32,1266.85 140.00,1265.00 C142.68,1263.15 147.67,1260.39 150.00,1259.08 C152.33,1257.77 152.67,1257.78 154.00,1257.14 C155.33,1256.50 156.67,1255.89 158.00,1255.22 C159.33,1254.55 160.67,1253.89 162.00,1253.14 C163.33,1252.40 164.67,1251.60 166.00,1250.74 C167.33,1249.88 168.67,1248.96 170.00,1247.99 C171.33,1247.03 172.67,1246.01 174.00,1244.96 C175.33,1243.90 176.67,1242.80 178.00,1241.68 C179.33,1240.56 180.67,1239.39 182.00,1238.22 C183.33,1237.04 184.67,1235.84 186.00,1234.63 C187.33,1233.42 188.67,1232.19 190.00,1230.96 C191.33,1229.74 192.67,1228.50 194.00,1227.27 C195.33,1226.05 196.67,1224.82 198.00,1223.61 C199.33,1222.40 200.67,1221.20 202.00,1220.01 C203.33,1218.82 204.67,1217.64 206.00,1216.46 C207.33,1215.29 208.67,1214.13 210.00,1212.97 C211.33,1211.82 212.67,1210.67 214.00,1209.53 C215.33,1208.40 216.67,1207.27 218.00,1206.15 C219.33,1205.03 220.67,1203.92 222.00,1202.82 C223.33,1201.72 224.67,1200.63 226.00,1199.54 C227.33,1198.46 228.67,1197.38 230.00,1196.32 C231.33,1195.25 232.67,1194.19 234.00,1193.14 C235.33,1192.09 236.67,1191.05 238.00,1190.02 C239.33,1188.99 240.67,1187.97 242.00,1186.95 C243.33,1185.93 244.67,1184.93 246.00,1183.93 C247.33,1182.93 248.67,1181.94 250.00,1180.96 C251.33,1179.97 252.67,1179.00 254.00,1178.03 C255.33,1177.06 256.67,1176.11 258.00,1175.15 C259.33,1174.20 260.67,1173.26 262.00,1172.33 C263.33,1171.39 264.67,1170.46 266.00,1169.54 C267.33,1168.62 268.67,1167.71 270.00,1166.81 C271.33,1165.90 272.67,1165.01 274.00,1164.12 C275.33,1163.23 276.67,1162.35 278.00,1161.47 C279.33,1160.60 280.67,1159.73 282.00,1158.87 C283.33,1158.01 284.67,1157.16 286.00,1156.31 C287.33,1155.47 288.67,1154.63 290.00,1153.80 C291.33,1152.96 292.67,1152.14 294.00,1151.32 C295.33,1150.50 296.67,1149.69 298.00,1148.89 C299.33,1148.08 300.67,1147.29 302.00,1146.50 C303.33,1145.70 304.67,1144.92 306.00,1144.14 C307.33,1143.36 308.67,1142.59 310.00,1141.83 C311.33,1141.06 312.67,1140.30 314.00,1139.55 C315.33,1138.79 316.67,1138.05 318.00,1137.31 C319.33,1136.57 320.67,1135.83 322.00,1135.10 C323.33,1134.37 324.67,1133.65 326.00,1132.93 C327.33,1132.21 328.67,1131.50 330.00,1130.79 C331.33,1130.09 332.67,1129.39 334.00,1128.69 C335.33,1128.00 336.67,1127.31 338.00,1126.62 C339.33,1125.94 340.67,1125.26 342.00,1124.58 C343.33,1123.91 344.67,1123.24 346.00,1122.57 C347.33,1121.91 348.67,1121.25 350.00,1120.60 C351.33,1119.94 352.67,1119.29 354.00,1118.65 C355.33,1118.00 356.67,1117.36 358.00,1116.73 C359.33,1116.09 360.67,1115.46 362.00,1114.83 C363.33,1114.21 364.67,1113.58 366.00,1112.97 C367.33,1112.35 368.67,1111.74 370.00,1111.13 C371.33,1110.52 372.67,1109.91 374.00,1109.31 C375.33,1108.71 376.67,1108.11 378.00,1107.52 C379.33,1106.93 380.67,1106.34 382.00,1105.75 C383.33,1105.16 384.67,1104.58 386.00,1104.00 C387.33,1103.43 388.67,1102.85 390.00,1102.28 C391.33,1101.71 392.67,1101.14 394.00,1100.58 C395.33,1100.01 396.67,1099.45 398.00,1098.89 C399.33,1098.33 400.67,1097.78 402.00,1097.23 C403.33,1096.68 404.67,1096.13 406.00,1095.58 C407.33,1095.04 408.67,1094.49 410.00,1093.95 C411.33,1093.41 412.67,1092.87 414.00,1092.34 C415.33,1091.80 416.67,1091.27 418.00,1090.74 C419.33,1090.21 420.67,1089.69 422.00,1089.16 C423.33,1088.64 424.67,1088.11 426.00,1087.59 C427.33,1087.07 428.67,1086.55 430.00,1086.04 C431.33,1085.52 432.67,1085.01 434.00,1084.50 C435.33,1083.98 436.67,1083.47 438.00,1082.97 C439.33,1082.46 440.67,1081.95 442.00,1081.45 C443.33,1080.94 444.67,1080.44 446.00,1079.94 C447.33,1079.43 448.67,1078.93 450.00,1078.43 C451.33,1077.94 452.67,1077.44 454.00,1076.94 C455.33,1076.45 456.67,1075.95 458.00,1075.46 C459.33,1074.97 460.67,1074.48 462.00,1073.99 C463.33,1073.50 464.67,1073.01 466.00,1072.52 C467.33,1072.03 468.67,1071.55 470.00,1071.07 C471.33,1070.58 472.67,1070.10 474.00,1069.62 C475.33,1069.14 476.67,1068.66 478.00,1068.18 C479.33,1067.70 480.67,1067.23 482.00,1066.75 C483.33,1066.28 484.67,1065.80 486.00,1065.33 C487.33,1064.86 488.67,1064.39 490.00,1063.92 C491.33,1063.45 492.67,1062.98 494.00,1062.51 C495.33,1062.05 496.67,1061.58 498.00,1061.12 C499.33,1060.65 500.67,1060.19 502.00,1059.73 C503.33,1059.27 504.67,1058.81 506.00,1058.35 C507.33,1057.89 508.67,1057.43 510.00,1056.98 C511.33,1056.52 512.67,1056.07 514.00,1055.61 C515.33,1055.16 516.67,1054.71 518.00,1054.26 C519.33,1053.81 520.67,1053.36 522.00,1052.91 C523.33,1052.46 524.67,1052.01 526.00,1051.57 C527.33,1051.12 528.67,1050.68 530.00,1050.24 C531.33,1049.79 532.67,1049.35 534.00,1048.91 C535.33,1048.47 536.67,1048.03 538.00,1047.59 C539.33,1047.16 540.67,1046.72 542.00,1046.28 C543.33,1045.85 544.67,1045.42 546.00,1044.98 C547.33,1044.55 548.67,1044.12 550.00,1043.69 C551.33,1043.26 552.67,1042.83 554.00,1042.40 C555.33,1041.97 556.67,1041.54 558.00,1041.12 C559.33,1040.69 560.67,1040.27 562.00,1039.84 C563.33,1039.42 564.67,1039.00 566.00,1038.58 C567.33,1038.16 568.67,1037.74 570.00,1037.32 C571.33,1036.90 572.67,1036.48 574.00,1036.07 C575.33,1035.65 576.67,1035.23 578.00,1034.82 C579.33,1034.41 580.67,1033.99 582.00,1033.58 C583.33,1033.17 584.67,1032.76 586.00,1032.35 C587.33,1031.94 588.67,1031.53 590.00,1031.12 C591.33,1030.71 592.67,1030.31 594.00,1029.90 C595.33,1029.50 596.67,1029.09 598.00,1028.69 C599.33,1028.28 600.67,1027.88 602.00,1027.48 C603.33,1027.08 604.67,1026.68 606.00,1026.28 C607.33,1025.88 608.67,1025.48 610.00,1025.09 C611.33,1024.69 612.67,1024.29 614.00,1023.90 C615.33,1023.50 616.67,1023.11 618.00,1022.71 C619.33,1022.32 620.67,1021.93 622.00,1021.54 C623.33,1021.15 624.67,1020.76 626.00,1020.37 C627.33,1019.98 628.67,1019.59 630.00,1019.20 C631.33,1018.81 632.67,1018.43 634.00,1018.04 C635.33,1017.66 636.67,1017.27 638.00,1016.89 C639.33,1016.51 640.67,1016.12 642.00,1015.74 C643.33,1015.36 644.67,1014.98 646.00,1014.60 C647.33,1014.22 648.67,1013.84 650.00,1013.46 C651.33,1013.08 652.67,1012.71 654.00,1012.33 C655.33,1011.95 656.67,1011.58 658.00,1011.20 C659.33,1010.83 660.67,1010.45 662.00,1010.08 C663.33,1009.71 664.67,1009.34 666.00,1008.96 C667.33,1008.59 668.67,1008.22 670.00,1007.85 C671.33,1007.48 672.67,1007.11 674.00,1006.75 C675.33,1006.38 676.67,1006.01 678.00,1005.64 C679.33,1005.28 680.67,1004.91 682.00,1004.55 C683.33,1004.18 684.67,1003.82 686.00,1003.45 C687.33,1003.09 688.67,1002.73 690.00,1002.37 C691.33,1002.01 692.67,1001.64 694.00,1001.28 C695.33,1000.92 696.67,1000.56 698.00,1000.21 C699.33,999.85 700.67,999.49 702.00,999.13 C703.33,998.77 704.67,998.42 706.00,998.06 C707.33,997.71 708.67,997.35 710.00,997.00 C711.33,996.64 712.67,996.29 714.00,995.93 C715.33,995.58 716.67,995.23 718.00,994.88 C719.33,994.53 720.67,994.17 722.00,993.82 C723.33,993.47 724.67,993.12 726.00,992.77 C727.33,992.43 728.67,992.08 730.00,991.73 C731.33,991.38 732.67,991.03 734.00,990.69 C735.33,990.34 736.67,989.99 738.00,989.65 C739.33,989.30 740.67,988.96 742.00,988.61 C743.33,988.27 744.67,987.93 746.00,987.58 C747.33,987.24 748.67,986.90 750.00,986.56 C751.33,986.21 752.67,985.87 754.00,985.53 C755.33,985.19 756.67,984.85 758.00,984.51 C759.33,984.17 760.67,983.83 762.00,983.49 C763.33,983.15 764.67,982.82 766.00,982.48 C767.33,982.14 768.67,981.80 770.00,981.47 C771.33,981.13 772.67,980.80 774.00,980.46 C775.33,980.12 776.67,979.79 778.00,979.45 C779.33,979.12 780.67,978.79 782.00,978.45 C783.33,978.12 784.67,977.79 786.00,977.45 C787.33,977.12 788.67,976.79 790.00,976.46 C791.33,976.12 792.67,975.79 794.00,975.46 C795.33,975.13 796.67,974.80 798.00,974.47 C799.33,974.14 800.67,973.81 802.00,973.48 C803.33,973.15 804.67,972.82 806.00,972.49 C807.33,972.16 808.67,971.84 810.00,971.51 C811.33,971.18 812.67,970.85 814.00,970.53 C815.33,970.20 816.67,969.87 818.00,969.55 C819.33,969.22 820.67,968.89 822.00,968.57 C823.33,968.24 824.67,967.92 826.00,967.59 C827.33,967.27 828.67,966.94 830.00,966.62 C831.33,966.29 832.67,965.97 834.00,965.65 C835.33,965.32 836.67,965.00 838.00,964.68 C839.33,964.35 840.67,964.03 842.00,963.71 C843.33,963.38 844.67,963.06 846.00,962.74 C847.33,962.42 848.67,962.10 850.00,961.77 C851.33,961.45 852.67,961.13 854.00,960.81 C855.33,960.49 856.67,960.17 858.00,959.85 C859.33,959.53 860.67,959.21 862.00,958.89 C863.33,958.57 864.67,958.25 866.00,957.93 C867.33,957.61 868.67,957.29 870.00,956.97 C871.33,956.65 872.67,956.33 874.00,956.01 C875.33,955.69 876.67,955.37 878.00,955.05 C879.33,954.73 880.67,954.41 882.00,954.10 C883.33,953.78 884.67,953.46 886.00,953.14 C887.33,952.82 888.67,952.50 890.00,952.19 C891.33,951.87 892.67,951.55 894.00,951.23 C895.33,950.91 896.67,950.60 898.00,950.28 C899.33,949.96 900.67,949.64 902.00,949.33 C903.33,949.01 904.67,948.69 906.00,948.38 C907.33,948.06 908.67,947.74 910.00,947.42 C911.33,947.11 912.67,946.79 914.00,946.47 C915.33,946.16 916.67,945.84 918.00,945.52 C919.33,945.21 920.67,944.89 922.00,944.57 C923.33,944.25 924.67,943.94 926.00,943.62 C927.33,943.30 928.67,942.99 930.00,942.67 C931.33,942.35 932.67,942.04 934.00,941.72 C935.33,941.40 936.67,941.09 938.00,940.77 C939.33,940.45 940.67,940.13 942.00,939.82 C943.33,939.50 944.67,939.18 946.00,938.87 C947.33,938.55 948.67,938.23 950.00,937.91 C951.33,937.60 952.67,937.28 954.00,936.96 C955.33,936.64 956.67,936.33 958.00,936.01 C959.33,935.69 960.67,935.37 962.00,935.06 C963.33,934.74 964.67,934.42 966.00,934.10 C967.33,933.78 968.67,933.47 970.00,933.15 C971.33,932.83 972.67,932.51 974.00,932.19 C975.33,931.87 976.67,931.55 978.00,931.24 C979.33,930.92 980.67,930.60 982.00,930.28 C983.33,929.96 984.67,929.64 986.00,929.32 C987.33,929.00 988.67,928.68 990.00,928.36 C991.33,928.04 992.67,927.72 994.00,927.40 C995.33,927.08 997.10,926.65 998.00,926.44 C998.90,926.22 999.17,926.16 999.40,926.10" stroke="#000" stroke-width="3.5"/>
<path d="M113.40,1502.90 C113.43,1497.03 113.50,1481.90 113.60,1467.70 C113.70,1453.50 113.80,1434.37 114.00,1417.70 C114.20,1401.03 114.50,1382.08 114.80,1367.70 C115.10,1353.32 115.42,1340.23 115.80,1331.40 C116.18,1322.57 116.53,1319.73 117.10,1314.70 C117.67,1309.67 118.42,1305.62 119.20,1301.20 C119.98,1296.78 120.93,1291.80 121.80,1288.20 C122.67,1284.60 123.60,1282.33 124.40,1279.60 C125.20,1276.87 125.80,1274.33 126.60,1271.80 C127.40,1269.27 128.27,1266.85 129.20,1264.40 C130.13,1261.95 131.20,1259.55 132.20,1257.10 C133.20,1254.65 134.12,1252.08 135.20,1249.70 C136.28,1247.32 137.47,1245.10 138.70,1242.80 C139.93,1240.50 141.23,1238.27 142.60,1235.90 C143.97,1233.53 145.67,1230.78 146.90,1228.60 C148.13,1226.42 147.37,1226.63 150.00,1222.80 C152.63,1218.97 158.45,1210.58 162.70,1205.60 C166.95,1200.62 171.25,1197.13 175.50,1192.90 C179.75,1188.67 184.12,1184.22 188.20,1180.20 C192.28,1176.18 197.37,1171.25 200.00,1168.77 C202.63,1166.28 202.67,1166.43 204.00,1165.28 C205.33,1164.14 206.67,1163.01 208.00,1161.90 C209.33,1160.79 210.67,1159.70 212.00,1158.62 C213.33,1157.54 214.67,1156.47 216.00,1155.42 C217.33,1154.37 218.67,1153.34 220.00,1152.32 C221.33,1151.29 222.67,1150.29 224.00,1149.29 C225.33,1148.30 226.67,1147.32 228.00,1146.35 C229.33,1145.38 230.67,1144.42 232.00,1143.48 C233.33,1142.53 234.67,1141.60 236.00,1140.67 C237.33,1139.75 238.67,1138.84 240.00,1137.94 C241.33,1137.04 242.67,1136.15 244.00,1135.26 C245.33,1134.38 246.67,1133.51 248.00,1132.65 C249.33,1131.78 250.67,1130.93 252.00,1130.08 C253.33,1129.23 254.67,1128.39 256.00,1127.56 C257.33,1126.73 258.67,1125.90 260.00,1125.09 C261.33,1124.27 262.67,1123.46 264.00,1122.65 C265.33,1121.84 266.67,1121.04 268.00,1120.25 C269.33,1119.45 270.67,1118.66 272.00,1117.88 C273.33,1117.09 274.67,1116.31 276.00,1115.53 C277.33,1114.76 278.67,1113.98 280.00,1113.22 C281.33,1112.45 282.67,1111.69 284.00,1110.93 C285.33,1110.17 286.67,1109.41 288.00,1108.66 C289.33,1107.91 290.67,1107.16 292.00,1106.42 C293.33,1105.68 294.67,1104.94 296.00,1104.20 C297.33,1103.47 298.67,1102.74 300.00,1102.01 C301.33,1101.28 302.67,1100.56 304.00,1099.84 C305.33,1099.12 306.67,1098.41 308.00,1097.69 C309.33,1096.98 310.67,1096.27 312.00,1095.57 C313.33,1094.86 314.67,1094.16 316.00,1093.46 C317.33,1092.76 318.67,1092.06 320.00,1091.37 C321.33,1090.68 322.67,1089.99 324.00,1089.30 C325.33,1088.62 326.67,1087.93 328.00,1087.25 C329.33,1086.57 330.67,1085.90 332.00,1085.22 C333.33,1084.55 334.67,1083.88 336.00,1083.21 C337.33,1082.54 338.67,1081.87 340.00,1081.21 C341.33,1080.54 342.67,1079.88 344.00,1079.23 C345.33,1078.57 346.67,1077.91 348.00,1077.26 C349.33,1076.60 350.67,1075.95 352.00,1075.30 C353.33,1074.65 354.67,1074.01 356.00,1073.36 C357.33,1072.72 358.67,1072.07 360.00,1071.43 C361.33,1070.79 362.67,1070.15 364.00,1069.52 C365.33,1068.88 366.67,1068.24 368.00,1067.61 C369.33,1066.98 370.67,1066.34 372.00,1065.71 C373.33,1065.08 374.67,1064.46 376.00,1063.83 C377.33,1063.20 378.67,1062.58 380.00,1061.96 C381.33,1061.33 382.67,1060.71 384.00,1060.09 C385.33,1059.47 386.67,1058.86 388.00,1058.24 C389.33,1057.62 390.67,1057.01 392.00,1056.40 C393.33,1055.79 394.67,1055.17 396.00,1054.57 C397.33,1053.96 398.67,1053.35 400.00,1052.74 C401.33,1052.14 402.67,1051.53 404.00,1050.93 C405.33,1050.33 406.67,1049.73 408.00,1049.13 C409.33,1048.53 410.67,1047.93 412.00,1047.34 C413.33,1046.74 414.67,1046.15 416.00,1045.56 C417.33,1044.96 418.67,1044.37 420.00,1043.79 C421.33,1043.20 422.67,1042.61 424.00,1042.02 C425.33,1041.44 426.67,1040.85 428.00,1040.27 C429.33,1039.69 430.67,1039.11 432.00,1038.53 C433.33,1037.95 434.67,1037.37 436.00,1036.80 C437.33,1036.22 438.67,1035.65 440.00,1035.08 C441.33,1034.50 442.67,1033.93 444.00,1033.36 C445.33,1032.79 446.67,1032.23 448.00,1031.66 C449.33,1031.09 450.67,1030.53 452.00,1029.97 C453.33,1029.40 454.67,1028.84 456.00,1028.28 C457.33,1027.72 458.67,1027.17 460.00,1026.61 C461.33,1026.05 462.67,1025.50 464.00,1024.94 C465.33,1024.39 466.67,1023.84 468.00,1023.29 C469.33,1022.74 470.67,1022.19 472.00,1021.64 C473.33,1021.09 474.67,1020.55 476.00,1020.00 C477.33,1019.46 478.67,1018.92 480.00,1018.38 C481.33,1017.84 482.67,1017.30 484.00,1016.76 C485.33,1016.22 486.67,1015.68 488.00,1015.15 C489.33,1014.61 490.67,1014.08 492.00,1013.55 C493.33,1013.01 494.67,1012.48 496.00,1011.96 C497.33,1011.43 498.67,1010.90 500.00,1010.37 C501.33,1009.85 502.67,1009.32 504.00,1008.80 C505.33,1008.28 506.67,1007.75 508.00,1007.23 C509.33,1006.71 510.67,1006.19 512.00,1005.68 C513.33,1005.16 514.67,1004.64 516.00,1004.13 C517.33,1003.62 518.67,1003.10 520.00,1002.59 C521.33,1002.08 522.67,1001.57 524.00,1001.06 C525.33,1000.55 526.67,1000.04 528.00,999.54 C529.33,999.03 530.67,998.53 532.00,998.03 C533.33,997.52 534.67,997.02 536.00,996.52 C537.33,996.02 538.67,995.52 540.00,995.02 C541.33,994.53 542.67,994.03 544.00,993.54 C545.33,993.04 546.67,992.55 548.00,992.06 C549.33,991.56 550.67,991.07 552.00,990.58 C553.33,990.10 554.67,989.61 556.00,989.12 C557.33,988.64 558.67,988.15 560.00,987.67 C561.33,987.18 562.67,986.70 564.00,986.22 C565.33,985.74 566.67,985.26 568.00,984.78 C569.33,984.30 570.67,983.82 572.00,983.35 C573.33,982.87 574.67,982.40 576.00,981.93 C577.33,981.45 578.67,980.98 580.00,980.51 C581.33,980.04 582.67,979.57 584.00,979.10 C585.33,978.64 586.67,978.17 588.00,977.70 C589.33,977.24 590.67,976.77 592.00,976.31 C593.33,975.85 594.67,975.39 596.00,974.93 C597.33,974.47 598.67,974.01 600.00,973.55 C601.33,973.09 602.67,972.64 604.00,972.18 C605.33,971.73 606.67,971.27 608.00,970.82 C609.33,970.37 610.67,969.92 612.00,969.47 C613.33,969.02 614.67,968.57 616.00,968.12 C617.33,967.67 618.67,967.22 620.00,966.78 C621.33,966.33 622.67,965.89 624.00,965.45 C625.33,965.00 626.67,964.56 628.00,964.12 C629.33,963.68 630.67,963.24 632.00,962.80 C633.33,962.37 634.67,961.93 636.00,961.49 C637.33,961.06 638.67,960.62 640.00,960.19 C641.33,959.76 642.67,959.32 644.00,958.89 C645.33,958.46 646.67,958.03 648.00,957.60 C649.33,957.17 650.67,956.75 652.00,956.32 C653.33,955.89 654.67,955.47 656.00,955.04 C657.33,954.62 658.67,954.20 660.00,953.78 C661.33,953.35 662.67,952.93 664.00,952.51 C665.33,952.09 666.67,951.68 668.00,951.26 C669.33,950.84 670.67,950.42 672.00,950.01 C673.33,949.59 674.67,949.18 676.00,948.77 C677.33,948.35 678.67,947.94 680.00,947.53 C681.33,947.12 682.67,946.71 684.00,946.30 C685.33,945.89 686.67,945.49 688.00,945.08 C689.33,944.67 690.67,944.27 692.00,943.86 C693.33,943.46 694.67,943.05 696.00,942.65 C697.33,942.25 698.67,941.85 700.00,941.45 C701.33,941.05 702.67,940.65 704.00,940.25 C705.33,939.85 706.67,939.46 708.00,939.06 C709.33,938.66 710.67,938.27 712.00,937.87 C713.33,937.48 714.67,937.09 716.00,936.69 C717.33,936.30 718.67,935.91 720.00,935.52 C721.33,935.13 722.67,934.74 724.00,934.35 C725.33,933.97 726.67,933.58 728.00,933.19 C729.33,932.81 730.67,932.42 732.00,932.04 C733.33,931.65 734.67,931.27 736.00,930.89 C737.33,930.50 738.67,930.12 740.00,929.74 C741.33,929.36 742.67,928.98 744.00,928.60 C745.33,928.23 746.67,927.85 748.00,927.47 C749.33,927.10 750.67,926.72 752.00,926.34 C753.33,925.97 754.67,925.60 756.00,925.22 C757.33,924.85 758.67,924.48 760.00,924.11 C761.33,923.74 762.67,923.37 764.00,923.00 C765.33,922.63 766.67,922.26 768.00,921.89 C769.33,921.52 770.67,921.16 772.00,920.79 C773.33,920.43 774.67,920.06 776.00,919.70 C777.33,919.33 778.67,918.97 780.00,918.61 C781.33,918.24 782.67,917.88 784.00,917.52 C785.33,917.16 786.67,916.80 788.00,916.44 C789.33,916.08 790.67,915.73 792.00,915.37 C793.33,915.01 794.67,914.66 796.00,914.30 C797.33,913.94 798.67,913.59 800.00,913.24 C801.33,912.88 802.67,912.53 804.00,912.18 C805.33,911.82 806.67,911.47 808.00,911.12 C809.33,910.77 810.67,910.42 812.00,910.07 C813.33,909.72 814.67,909.38 816.00,909.03 C817.33,908.68 818.67,908.33 820.00,907.99 C821.33,907.64 822.67,907.30 824.00,906.95 C825.33,906.61 826.67,906.26 828.00,905.92 C829.33,905.58 830.67,905.24 832.00,904.89 C833.33,904.55 834.67,904.21 836.00,903.87 C837.33,903.53 838.67,903.19 840.00,902.86 C841.33,902.52 842.67,902.18 844.00,901.84 C845.33,901.51 846.67,901.17 848.00,900.83 C849.33,900.50 850.67,900.16 852.00,899.83 C853.33,899.49 854.67,899.16 856.00,898.83 C857.33,898.50 858.67,898.16 860.00,897.83 C861.33,897.50 862.67,897.17 864.00,896.84 C865.33,896.51 866.67,896.18 868.00,895.85 C869.33,895.52 870.67,895.19 872.00,894.87 C873.33,894.54 874.67,894.21 876.00,893.89 C877.33,893.56 878.67,893.24 880.00,892.91 C881.33,892.59 882.67,892.26 884.00,891.94 C885.33,891.62 886.67,891.29 888.00,890.97 C889.33,890.65 890.67,890.33 892.00,890.01 C893.33,889.68 894.67,889.36 896.00,889.04 C897.33,888.72 898.67,888.40 900.00,888.09 C901.33,887.77 902.67,887.45 904.00,887.13 C905.33,886.81 906.67,886.50 908.00,886.18 C909.33,885.87 910.67,885.55 912.00,885.23 C913.33,884.92 914.67,884.60 916.00,884.29 C917.33,883.98 918.67,883.66 920.00,883.35 C921.33,883.04 922.67,882.73 924.00,882.41 C925.33,882.10 926.67,881.79 928.00,881.48 C929.33,881.17 930.67,880.86 932.00,880.55 C933.33,880.24 934.67,879.93 936.00,879.62 C937.33,879.31 938.67,879.01 940.00,878.70 C941.33,878.39 942.67,878.08 944.00,877.78 C945.33,877.47 946.67,877.16 948.00,876.86 C949.33,876.55 950.67,876.25 952.00,875.94 C953.33,875.64 954.67,875.33 956.00,875.03 C957.33,874.73 958.67,874.42 960.00,874.12 C961.33,873.82 962.67,873.52 964.00,873.21 C965.33,872.91 966.67,872.61 968.00,872.31 C969.33,872.01 970.67,871.71 972.00,871.41 C973.33,871.11 974.67,870.81 976.00,870.51 C977.33,870.21 978.67,869.91 980.00,869.61 C981.33,869.31 982.67,869.02 984.00,868.72 C985.33,868.42 986.67,868.12 988.00,867.83 C989.33,867.53 990.67,867.24 992.00,866.94 C993.33,866.64 994.77,866.33 996.00,866.05 C997.23,865.78 998.83,865.43 999.40,865.30" stroke="#000" stroke-width="3.1" stroke-dasharray="3 4.8"/>
<path d="M113.40,1502.90 L200.00,1364.10 L205.90,1360.00 L218.20,1357.10 L221.50,1350.00 L235.10,1319.60 L247.20,1296.50 L257.20,1281.80 L270.00,1262.90 L281.24,1247.76 Q285.00,1242.70 289.90,1238.74 L291.00,1237.86 Q295.90,1233.90 302.00,1232.29 L463.90,1189.60 Q472.60,1187.30 481.59,1186.79 L520.00,1184.60 L999.40,1154.20" stroke="#1f77b4" stroke-width="2.1"/>
<path d="M113.40,1502.90 L156.80,1425.00 L175.30,1392.90 L202.60,1350.00 L218.30,1318.60 L234.10,1282.90 L247.20,1254.50 L270.00,1230.40 L281.15,1217.31 Q285.00,1212.80 289.90,1209.47 L291.00,1208.73 Q295.90,1205.40 301.61,1203.82 L463.93,1158.80 Q472.60,1156.40 481.58,1155.76 L520.00,1153.00 L999.40,1120.60" stroke="#ff7f0e" stroke-width="2.1"/>
<path d="M113.40,1502.90 L156.80,1420.10 L198.40,1346.90 L202.40,1338.80 L206.80,1325.90 L211.00,1304.90 L216.80,1285.00 L222.50,1265.00 L233.00,1247.20 L244.60,1229.30 L250.90,1219.90 L266.60,1206.20 L274.20,1197.20 L283.43,1190.51 Q289.10,1186.40 295.83,1184.47 L463.95,1136.38 Q472.60,1133.90 481.58,1133.26 L520.00,1130.50 L999.40,1094.90" stroke="#2ca02c" stroke-width="5.8" stroke-dasharray="21.8 9.8" stroke-dashoffset="0.7"/>
<path d="M113.40,1502.90 L156.80,1408.70 L200.50,1336.40 L205.70,1311.20 L210.00,1285.00 L213.60,1258.70 L216.20,1237.70 L218.90,1226.20 L224.60,1211.50 L232.00,1201.00 L240.40,1190.50 L249.50,1180.50 L266.00,1167.40 L279.55,1157.70 Q285.00,1153.80 291.12,1151.06 L292.48,1150.44 Q298.60,1147.70 305.07,1145.93 L463.92,1102.38 Q472.60,1100.00 481.58,1099.37 L520.00,1096.70 L999.40,1056.20" stroke="#d62728" stroke-width="2.1"/>
<path d="M113.40,1502.90 L156.50,1401.20 L200.50,1329.10 L204.70,1306.00 L208.40,1274.50 L212.00,1243.00 L215.20,1222.00 L217.30,1206.20 L220.40,1193.60 L225.70,1180.50 L236.20,1161.90 L247.70,1142.90 L266.00,1132.10 L282.19,1123.45 Q286.40,1121.20 290.67,1119.09 L291.62,1118.62 Q295.90,1116.50 300.51,1115.29 L463.90,1072.39 Q472.60,1070.10 481.57,1069.36 L520.00,1066.20 L999.40,1022.40" stroke="#9467bd" stroke-width="2.1"/>
</g>
<path d="M113.4,1502.9 v-29.0 M113.4,842.7 v29.0 M157.7,1502.9 v-13.5 M157.7,842.7 v13.5 M202.0,1502.9 v-13.5 M202.0,842.7 v13.5 M246.3,1502.9 v-13.5 M246.3,842.7 v13.5 M290.6,1502.9 v-29.0 M290.6,842.7 v29.0 M334.9,1502.9 v-13.5 M334.9,842.7 v13.5 M379.2,1502.9 v-13.5 M379.2,842.7 v13.5 M423.5,1502.9 v-13.5 M423.5,842.7 v13.5 M467.8,1502.9 v-29.0 M467.8,842.7 v29.0 M512.1,1502.9 v-13.5 M512.1,842.7 v13.5 M556.4,1502.9 v-13.5 M556.4,842.7 v13.5 M600.7,1502.9 v-13.5 M600.7,842.7 v13.5 M645.0,1502.9 v-29.0 M645.0,842.7 v29.0 M689.3,1502.9 v-13.5 M689.3,842.7 v13.5 M733.6,1502.9 v-13.5 M733.6,842.7 v13.5 M777.9,1502.9 v-13.5 M777.9,842.7 v13.5 M822.2,1502.9 v-29.0 M822.2,842.7 v29.0 M866.5,1502.9 v-13.5 M866.5,842.7 v13.5 M910.8,1502.9 v-13.5 M910.8,842.7 v13.5 M955.1,1502.9 v-13.5 M955.1,842.7 v13.5 M999.4,1502.9 v-29.0 M999.4,842.7 v29.0 M113.4,1502.9 h29.0 M999.4,1502.9 h-29.0 M113.4,1475.4 h13.5 M999.4,1475.4 h-13.5 M113.4,1447.9 h13.5 M999.4,1447.9 h-13.5 M113.4,1420.4 h13.5 M999.4,1420.4 h-13.5 M113.4,1392.9 h29.0 M999.4,1392.9 h-29.0 M113.4,1365.4 h13.5 M999.4,1365.4 h-13.5 M113.4,1337.8 h13.5 M999.4,1337.8 h-13.5 M113.4,1310.3 h13.5 M999.4,1310.3 h-13.5 M113.4,1282.8 h29.0 M999.4,1282.8 h-29.0 M113.4,1255.3 h13.5 M999.4,1255.3 h-13.5 M113.4,1227.8 h13.5 M999.4,1227.8 h-13.5 M113.4,1200.3 h13.5 M999.4,1200.3 h-13.5 M113.4,1172.8 h29.0 M999.4,1172.8 h-29.0 M113.4,1145.3 h13.5 M999.4,1145.3 h-13.5 M113.4,1117.8 h13.5 M999.4,1117.8 h-13.5 M113.4,1090.2 h13.5 M999.4,1090.2 h-13.5 M113.4,1062.7 h29.0 M999.4,1062.7 h-29.0 M113.4,1035.2 h13.5 M999.4,1035.2 h-13.5 M113.4,1007.7 h13.5 M999.4,1007.7 h-13.5 M113.4,980.2 h13.5 M999.4,980.2 h-13.5 M113.4,952.7 h29.0 M999.4,952.7 h-29.0 M113.4,925.2 h13.5 M999.4,925.2 h-13.5 M113.4,897.7 h13.5 M999.4,897.7 h-13.5 M113.4,870.2 h13.5 M999.4,870.2 h-13.5 M113.4,842.7 h29.0 M999.4,842.7 h-29.0" stroke="#000" stroke-width="1.7" fill="none"/>
<rect x="113.4" y="842.7" width="886.0" height="660.2" fill="none" stroke="#000" stroke-width="3"/>
<path d="M759.1,1293.7 H821.1" stroke="#1f77b4" stroke-width="2.1"/>
<path d="M759.1,1335.0 H821.1" stroke="#ff7f0e" stroke-width="2.1"/>
<path d="M760.4,1376.3 H822" stroke="#2ca02c" stroke-width="5.8" stroke-dasharray="21.7 10.1"/>
<path d="M759.1,1417.7 H821.1" stroke="#d62728" stroke-width="2.1"/>
<path d="M759.1,1459.0 H821.1" stroke="#9467bd" stroke-width="2.1"/>
<g font-family="Liberation Serif" fill="#000" stroke="#fff" stroke-width="0.5"><text x="101.72" y="1553.60" font-size="49.0" textLength="23.36" lengthAdjust="spacingAndGlyphs">0</text>
<text x="278.29" y="1553.60" font-size="49.0" textLength="25.19" lengthAdjust="spacingAndGlyphs">2</text>
<text x="456.42" y="1553.60" font-size="49.0" textLength="22.59" lengthAdjust="spacingAndGlyphs">4</text>
<text x="632.27" y="1553.60" font-size="49.0" textLength="24.81" lengthAdjust="spacingAndGlyphs">6</text>
<text x="810.28" y="1553.60" font-size="49.0" textLength="23.83" lengthAdjust="spacingAndGlyphs">8</text>
<text x="976.82" y="1553.60" font-size="49.0" textLength="43.02" lengthAdjust="spacingAndGlyphs">10</text>
<text x="83.10" y="1519.60" font-size="49.0" textLength="23.59" lengthAdjust="spacingAndGlyphs">0</text>
<text x="82.49" y="1409.56" font-size="49.0" textLength="25.19" lengthAdjust="spacingAndGlyphs">2</text>
<text x="83.02" y="1299.52" font-size="49.0" textLength="22.59" lengthAdjust="spacingAndGlyphs">4</text>
<text x="81.57" y="1189.48" font-size="49.0" textLength="24.81" lengthAdjust="spacingAndGlyphs">6</text>
<text x="82.88" y="1079.44" font-size="49.0" textLength="23.83" lengthAdjust="spacingAndGlyphs">8</text>
<text x="60.77" y="969.40" font-size="49.0" textLength="45.88" lengthAdjust="spacingAndGlyphs">10</text>
<text x="60.58" y="859.36" font-size="49.0" textLength="46.91" lengthAdjust="spacingAndGlyphs">12</text>
<text x="399.87" y="1607.50" font-size="51.0" textLength="168.25" lengthAdjust="spacingAndGlyphs">Pressure</text>
<text x="582.40" y="1607.50" font-size="51.0" textLength="129.80" lengthAdjust="spacingAndGlyphs">[Mbar]</text>
<g transform="translate(40.7,1375.3) rotate(-90)"><text x="-0.90" y="0.00" font-size="51.0" textLength="255.24" lengthAdjust="spacingAndGlyphs">Temperature</text><text x="270.73" y="0.00" font-size="51.0" textLength="55.15" lengthAdjust="spacingAndGlyphs">[10</text><text x="326.07" y="-17.40" font-size="35.0" textLength="15.98" lengthAdjust="spacingAndGlyphs">3</text><text x="358.98" y="0.00" font-size="51.0" textLength="44.77" lengthAdjust="spacingAndGlyphs">K]</text></g>
<text x="465.89" y="1393.06" font-size="51.5" textLength="106.53" lengthAdjust="spacingAndGlyphs">SR18</text></g>
<g font-family="Liberation Serif" fill="#000"><text x="215.62" y="888.90" font-size="28.0" textLength="176.41" lengthAdjust="spacingAndGlyphs">CMS19+HG23</text>
<text x="402.75" y="888.90" font-size="28.0" textLength="8.69" lengthAdjust="spacingAndGlyphs">(</text><text x="411.40" y="888.90" font-size="28.0" font-style="italic" textLength="18.54" lengthAdjust="spacingAndGlyphs">Y</text><text x="440.72" y="888.90" font-size="28.0" textLength="22.42" lengthAdjust="spacingAndGlyphs">=</text><text x="470.15" y="888.90" font-size="28.0" textLength="69.56" lengthAdjust="spacingAndGlyphs">0.272;</text><text x="549.65" y="888.90" font-size="28.0" font-style="italic" textLength="11.23" lengthAdjust="spacingAndGlyphs">s</text><text x="567.99" y="888.90" font-size="28.0" textLength="22.78" lengthAdjust="spacingAndGlyphs">=</text><text x="597.65" y="888.90" font-size="28.0" textLength="46.86" lengthAdjust="spacingAndGlyphs">6.21</text><text x="655.83" y="888.90" font-size="28.0" font-style="italic" textLength="10.33" lengthAdjust="spacingAndGlyphs">k</text><text x="680.00" y="888.90" font-size="28.0" textLength="10.60" lengthAdjust="spacingAndGlyphs">/</text><text x="694.70" y="888.90" font-size="28.0" textLength="78.13" lengthAdjust="spacingAndGlyphs">baryon</text><text x="773.88" y="888.90" font-size="28.0" textLength="8.43" lengthAdjust="spacingAndGlyphs">)</text><text x="666.09" y="892.70" font-size="19.0" font-style="italic" textLength="12.25" lengthAdjust="spacingAndGlyphs">b</text>
<text x="215.21" y="930.20" font-size="28.0" textLength="97.09" lengthAdjust="spacingAndGlyphs">SCvH95</text>
<text x="322.35" y="930.20" font-size="28.0" textLength="8.69" lengthAdjust="spacingAndGlyphs">(</text><text x="331.00" y="930.20" font-size="28.0" font-style="italic" textLength="18.54" lengthAdjust="spacingAndGlyphs">Y</text><text x="360.32" y="930.20" font-size="28.0" textLength="22.42" lengthAdjust="spacingAndGlyphs">=</text><text x="389.75" y="930.20" font-size="28.0" textLength="69.56" lengthAdjust="spacingAndGlyphs">0.272;</text><text x="469.25" y="930.20" font-size="28.0" font-style="italic" textLength="11.23" lengthAdjust="spacingAndGlyphs">s</text><text x="487.59" y="930.20" font-size="28.0" textLength="22.78" lengthAdjust="spacingAndGlyphs">=</text><text x="517.25" y="930.20" font-size="28.0" textLength="46.86" lengthAdjust="spacingAndGlyphs">6.21</text><text x="575.43" y="930.20" font-size="28.0" font-style="italic" textLength="10.33" lengthAdjust="spacingAndGlyphs">k</text><text x="599.60" y="930.20" font-size="28.0" textLength="10.60" lengthAdjust="spacingAndGlyphs">/</text><text x="614.30" y="930.20" font-size="28.0" textLength="78.13" lengthAdjust="spacingAndGlyphs">baryon</text><text x="693.48" y="930.20" font-size="28.0" textLength="8.43" lengthAdjust="spacingAndGlyphs">)</text><text x="585.69" y="934.00" font-size="19.0" font-style="italic" textLength="12.25" lengthAdjust="spacingAndGlyphs">b</text>
<text x="843.50" y="1304.90" font-size="30.5" font-style="italic" textLength="19.49" lengthAdjust="spacingAndGlyphs">Y</text>
<text x="875.05" y="1304.90" font-size="30.5" textLength="23.27" lengthAdjust="spacingAndGlyphs">=</text>
<text x="906.17" y="1304.90" font-size="30.5" textLength="51.89" lengthAdjust="spacingAndGlyphs">0.15</text>
<text x="843.50" y="1346.20" font-size="30.5" font-style="italic" textLength="19.49" lengthAdjust="spacingAndGlyphs">Y</text>
<text x="875.05" y="1346.20" font-size="30.5" textLength="23.27" lengthAdjust="spacingAndGlyphs">=</text>
<text x="906.16" y="1346.20" font-size="30.5" textLength="52.39" lengthAdjust="spacingAndGlyphs">0.22</text>
<text x="843.50" y="1387.50" font-size="30.5" font-style="italic" textLength="19.49" lengthAdjust="spacingAndGlyphs">Y</text>
<text x="875.05" y="1387.50" font-size="30.5" textLength="23.27" lengthAdjust="spacingAndGlyphs">=</text>
<text x="906.19" y="1387.50" font-size="30.5" textLength="65.83" lengthAdjust="spacingAndGlyphs">0.272</text>
<text x="843.50" y="1428.90" font-size="30.5" font-style="italic" textLength="19.49" lengthAdjust="spacingAndGlyphs">Y</text>
<text x="875.05" y="1428.90" font-size="30.5" textLength="23.27" lengthAdjust="spacingAndGlyphs">=</text>
<text x="906.17" y="1428.90" font-size="30.5" textLength="51.89" lengthAdjust="spacingAndGlyphs">0.35</text>
<text x="843.50" y="1470.20" font-size="30.5" font-style="italic" textLength="19.49" lengthAdjust="spacingAndGlyphs">Y</text>
<text x="875.05" y="1470.20" font-size="30.5" textLength="23.27" lengthAdjust="spacingAndGlyphs">=</text>
<text x="906.16" y="1470.20" font-size="30.5" textLength="52.39" lengthAdjust="spacingAndGlyphs">0.42</text></g>
<path d="M136.7,878.65 H195.7" stroke="#000" stroke-width="3.6"/>
<path d="M138.1,920.60 H194.3" stroke="#000" stroke-width="3.2" stroke-dasharray="3.2 4.7"/>
</svg>
</body></html>
